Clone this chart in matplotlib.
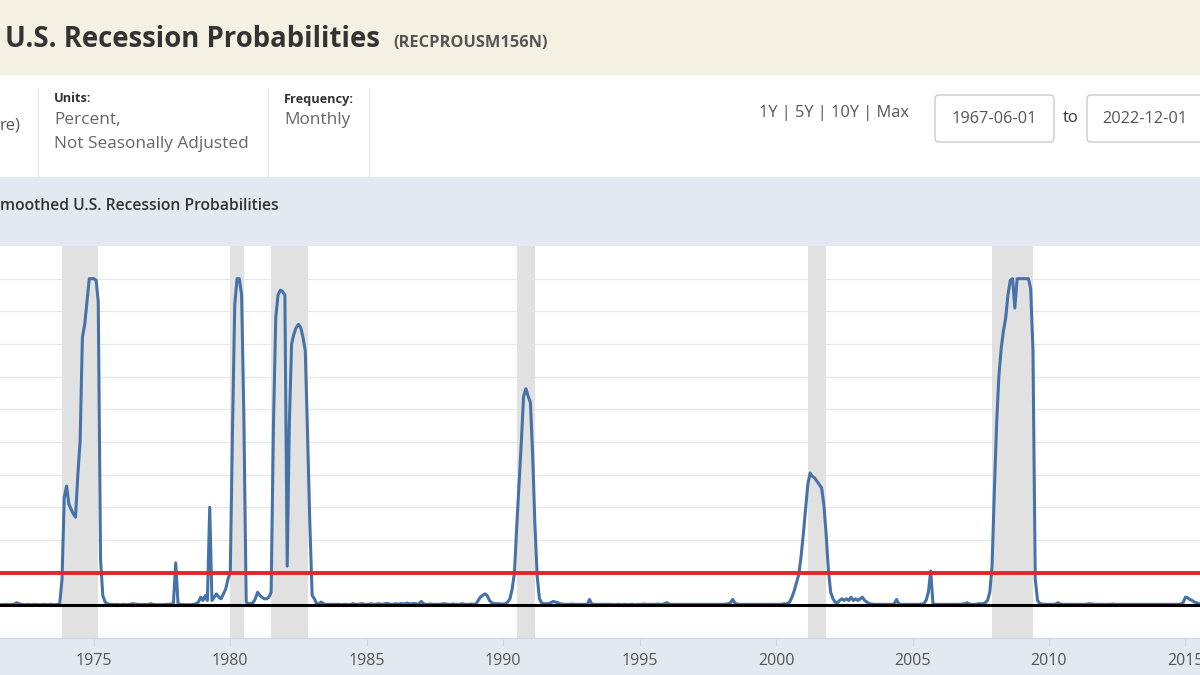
import matplotlib
matplotlib.use("Agg")
import matplotlib.pyplot as plt
import matplotlib.dates as mdates
from matplotlib.patches import Rectangle, FancyBboxPatch
import pandas as pd

plt.rcParams['font.family'] = ['Open Sans', 'DejaVu Sans']

# smoothed recession probabilities (percent), monthly
prob = [
    0.3, 0.2, 0.2, 0.3, 0.2, 0.2, 0.3, 0.2, 0.2, 0.3, 0.2, 0.2,      # 1971
    0.3, 0.3, 0.8, 0.5, 0.3, 0.2, 0.2, 0.3, 0.2, 0.2, 0.3, 0.2,      # 1972
    0.2, 0.2, 0.3, 0.2, 0.2, 0.3, 0.2, 0.2, 0.3, 0.3, 8, 33,         # 1973
    36.5, 31, 29.5, 28, 27, 40, 50, 82, 86, 93, 100, 100,            # 1974
    100, 99.5, 93, 14, 3, 1, 0.5, 0.3, 0.3, 0.2, 0.3, 0.2,           # 1975
    0.2, 0.3, 0.2, 0.2, 0.3, 0.5, 0.4, 0.3, 0.3, 0.2, 0.3, 0.2,      # 1976
    0.3, 0.5, 0.3, 0.2, 0.2, 0.2, 0.2, 0.2, 0.3, 0.3, 0.4, 0.5,      # 1977
    13, 0.5, 0.3, 0.2, 0.2, 0.2, 0.2, 0.2, 0.3, 0.5, 1, 2.5,         # 1978
    1.5, 3, 1.5, 30, 1.5, 2.5, 3.5, 2.5, 2, 3.5, 5, 8,               # 1979
    10, 55, 92, 100, 100, 95, 58, 1, 0.5, 0.5, 0.8, 2,               # 1980
    4, 3, 2.5, 2, 2, 2.5, 4, 55, 88, 95, 96.5, 96,                   # 1981
    95, 12, 55, 80, 83, 85, 86, 85, 82, 78, 52, 25,                  # 1982
    3, 2, 0.5, 0.5, 1, 0.5, 0.3, 0.3, 0.3, 0.3, 0.3, 0.3,            # 1983
    0.3, 0.2, 0.3, 0.3, 0.2, 0.3, 0.5, 0.3, 0.3, 0.4, 0.5, 0.3,      # 1984
    0.3, 0.3, 0.5, 0.3, 0.3, 0.5, 0.4, 0.3, 0.5, 0.6, 0.4, 0.3,      # 1985
    0.4, 0.5, 0.3, 0.6, 0.4, 0.5, 0.7, 0.4, 0.5, 0.6, 0.4, 0.5,      # 1986
    1.2, 0.5, 0.3, 0.3, 0.4, 0.3, 0.3, 0.3, 0.3, 0.4, 0.5, 0.4,      # 1987
    0.3, 0.3, 0.4, 0.3, 0.3, 0.3, 0.5, 0.3, 0.3, 0.3, 0.4, 0.3,      # 1988
    0.4, 1.5, 2.5, 3, 3.5, 3, 1.5, 0.8, 0.5, 0.5, 0.5, 0.4,          # 1989
    0.4, 0.5, 1, 2, 5, 10, 24, 37, 50, 64, 66.3, 64,                 # 1990
    62, 45, 25, 9, 2, 0.7, 0.5, 0.5, 0.5, 0.8, 1.2, 1,               # 1991
    0.8, 0.5, 0.4, 0.3, 0.3, 0.3, 0.4, 0.3, 0.3, 0.3, 0.3, 0.3,      # 1992
    0.3, 0.3, 1.8, 0.4, 0.3, 0.3, 0.3, 0.3, 0.3, 0.3, 0.3, 0.3,      # 1993
    0.3, 0.2, 0.3, 0.3, 0.2, 0.3, 0.3, 0.2, 0.3, 0.3, 0.2, 0.3,      # 1994
    0.3, 0.3, 0.4, 0.3, 0.3, 0.3, 0.3, 0.3, 0.4, 0.3, 0.3, 0.5,      # 1995
    0.8, 0.4, 0.3, 0.3, 0.3, 0.3, 0.3, 0.3, 0.3, 0.3, 0.3, 0.3,      # 1996
    0.3, 0.3, 0.3, 0.3, 0.3, 0.3, 0.3, 0.3, 0.3, 0.3, 0.3, 0.3,      # 1997
    0.3, 0.3, 0.4, 0.5, 0.8, 1.8, 0.6, 0.4, 0.3, 0.3, 0.3, 0.3,      # 1998
    0.3, 0.3, 0.3, 0.3, 0.3, 0.3, 0.3, 0.3, 0.3, 0.3, 0.3, 0.3,      # 1999
    0.3, 0.3, 0.3, 0.4, 0.5, 0.5, 1, 2.5, 4.5, 7, 9.5, 15,           # 2000
    22, 30, 37, 40.5, 39.5, 39, 38, 37, 36, 31, 22, 11,              # 2001
    4, 2, 1, 0.8, 1.5, 2, 1.5, 2, 1.5, 2.5, 1.5, 2,                  # 2002
    1.5, 2, 2.5, 1.5, 1, 0.5, 0.4, 0.3, 0.3, 0.3, 0.3, 0.3,          # 2003
    0.3, 0.3, 0.3, 0.3, 0.5, 1.8, 0.4, 0.3, 0.3, 0.3, 0.3, 0.3,      # 2004
    0.3, 0.3, 0.3, 0.3, 0.4, 0.5, 1.5, 4, 10.5, 0.5, 0.3, 0.3,       # 2005
    0.3, 0.3, 0.3, 0.3, 0.3, 0.3, 0.3, 0.3, 0.3, 0.3, 0.4, 0.5,      # 2006
    0.8, 0.4, 0.3, 0.3, 0.3, 0.5, 0.5, 0.5, 0.8, 1.5, 4, 12,         # 2007
    35, 56, 70, 78.5, 84, 88, 95, 99.5, 100, 91, 100, 100,           # 2008
    100, 100, 100, 100, 97, 78, 8, 1.5, 0.5, 0.4, 0.3, 0.3,          # 2009
    0.3, 0.3, 0.3, 0.4, 0.8, 0.4, 0.3, 0.3, 0.3, 0.3, 0.3, 0.3,      # 2010
    0.3, 0.3, 0.3, 0.3, 0.3, 0.4, 0.5, 0.4, 0.3, 0.3, 0.3, 0.3,      # 2011
    0.3, 0.3, 0.3, 0.3, 0.4, 0.3, 0.3, 0.3, 0.3, 0.3, 0.3, 0.3,      # 2012
    0.3, 0.3, 0.3, 0.3, 0.3, 0.3, 0.3, 0.3, 0.3, 0.3, 0.3, 0.3,      # 2013
    0.3, 0.3, 0.3, 0.3, 0.3, 0.3, 0.3, 0.3, 0.3, 0.3, 0.4, 0.8,      # 2014
    2.5, 2.3, 1.8, 1.5, 1, 0.8, 0.5, 0.4, 0.3, 0.3, 0.3, 0.3,        # 2015
]
dates = pd.date_range('1971-01-01', periods=len(prob), freq='MS')

rec_start = ['1973-11-01', '1980-01-01', '1981-07-01', '1990-07-01',
             '2001-03-01', '2007-12-01', '2020-02-01']
rec_end = ['1975-03-01', '1980-07-01', '1982-11-01', '1991-03-01',
           '2001-11-01', '2009-06-01', '2020-04-01']

threshold = 10
baseline = 0

W, H = 1200, 675
fig = plt.figure(figsize=(12, 6.75), dpi=100)

# page background drawn in pixel coords
bg = fig.add_axes([0, 0, 1, 1])
bg.set_xlim(0, W)
bg.set_ylim(H, 0)
bg.axis('off')
bg.add_patch(Rectangle((0, 0), W, 75, color='#f2f1e2', lw=0))
bg.add_patch(Rectangle((0, 177), W, 69, color='#e3e9f0', lw=0))
bg.add_patch(Rectangle((0, 638), W, 37, color='#e3e9f0', lw=0))

bg.text(5, 47, 'U.S. Recession Probabilities', fontsize=19.8, fontweight='bold',
        color='#333333', va='baseline')
bg.text(393, 47, '(RECPROUSM156N)', fontsize=11.8, fontweight='bold',
        color='#555555', va='baseline')

for xs in [38, 268, 369]:
    bg.plot([xs, xs], [88, 177], color='#e8e8e8', lw=1)
bg.text(0, 126, 're)', fontsize=12, color='#555555', va='center')
bg.text(54, 99, 'Units:', fontsize=9.2, fontweight='bold', color='#333333', va='center')
bg.text(54, 120, 'Percent,', fontsize=12.4, color='#666666', va='center')
bg.text(54, 144, 'Not Seasonally Adjusted', fontsize=12.4, color='#666666', va='center')
bg.text(284, 99, 'Frequency:', fontsize=9.2, fontweight='bold', color='#333333', va='center')
bg.text(284, 120, 'Monthly', fontsize=12.4, color='#666666', va='center')

bg.text(759, 113, '1Y | 5Y | 10Y | Max', fontsize=11.8, color='#555555', va='center')
bg.add_patch(FancyBboxPatch((935, 95), 119, 47, boxstyle='round,pad=0,rounding_size=4',
                            fc='white', ec='#cccccc', lw=1))
bg.text(994, 119, '1967-06-01', fontsize=11.8, color='#555555', ha='center', va='center')
bg.text(1063, 118, 'to', fontsize=12, color='#333333', va='center')
bg.add_patch(FancyBboxPatch((1087, 95), 125, 47, boxstyle='round,pad=0,rounding_size=4',
                            fc='white', ec='#cccccc', lw=1))
bg.text(1102, 119, '2022-12-01', fontsize=11.8, color='#555555', va='center')

bg.text(0, 206, 'moothed U.S. Recession Probabilities', fontsize=11.3,
        fontweight='semibold', color='#333333', va='center')

# chart axes: the full date range is wider than the visible crop
left_px, right_px = -113.2, 1401.4
top_px, bottom_px = 246, 638
ax = fig.add_axes([left_px / W, 1 - bottom_px / H,
                   (right_px - left_px) / W, (bottom_px - top_px) / H])
ax.set_facecolor('white')

for s, e in zip(rec_start, rec_end):
    ax.axvspan(pd.Timestamp(s), pd.Timestamp(e), color='#e1e1e1', lw=0, zorder=1)

ax.plot(dates, prob, color='#4572a7', lw=2.2, zorder=3, solid_joinstyle='round')
ax.axhline(threshold, color='#e1262d', lw=2.8, zorder=4)
ax.axhline(baseline, color='#000000', lw=2.2, zorder=4)

ax.set_xlim(pd.Timestamp('1967-06-01'), pd.Timestamp('2022-12-01'))
ax.set_ylim(-10, 110)
ax.set_yticks(range(0, 101, 10))
ax.grid(axis='y', color='#e6e6e6', lw=0.8, zorder=0)
ax.set_axisbelow(True)
ax.tick_params(axis='y', length=0, labelleft=False)

ax.xaxis.set_major_locator(mdates.YearLocator(5))
ax.xaxis.set_major_formatter(mdates.DateFormatter('%Y'))
ax.tick_params(axis='x', direction='out', length=6, width=0.8, color='#ccd6eb',
               labelsize=11.5, labelcolor='#555555', pad=5)

for sp in ['top', 'left', 'right']:
    ax.spines[sp].set_visible(False)
ax.spines['bottom'].set_color('#ccd6eb')
ax.spines['bottom'].set_linewidth(0.8)

fig.savefig('out.png', dpi=100)
